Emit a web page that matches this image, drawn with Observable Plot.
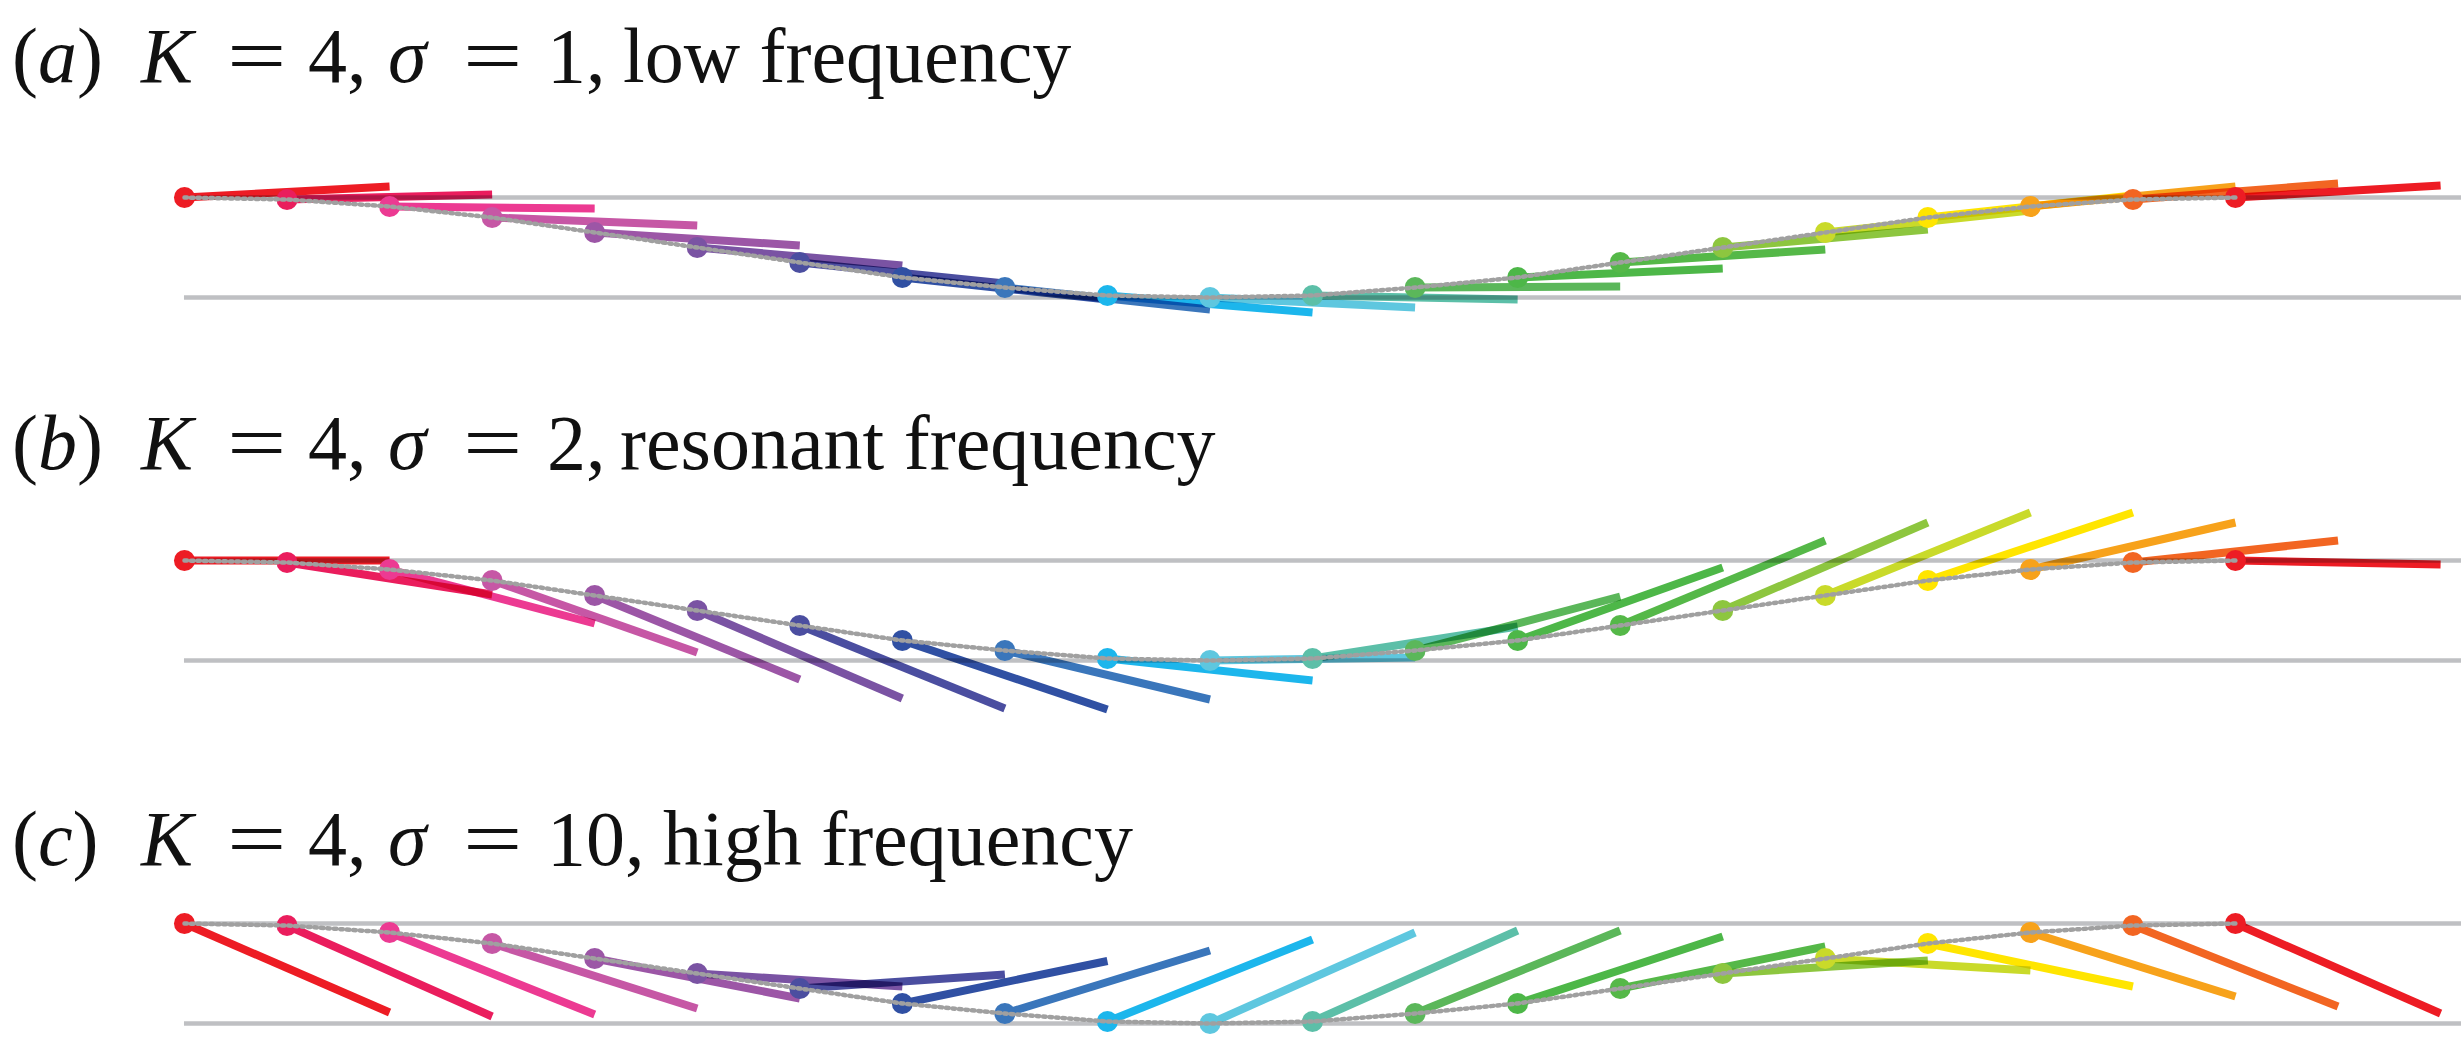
<!DOCTYPE html>
<html>
<head>
<meta charset="utf-8">
<script src="https://cdn.jsdelivr.net/npm/d3@7"></script>
<script src="https://cdn.jsdelivr.net/npm/@observablehq/plot@0.6"></script>
<style>
  html, body { margin: 0; padding: 0; background: #fff; overflow: hidden; width: 2461px; height: 1042px; }
  #root { position: relative; width: 2461px; height: 1042px; }
  .panel { position: absolute; left: 0; }
  #titles { position: absolute; left: 0; top: 0; pointer-events: none; }
  #titles text { font-family: "Liberation Serif", "Times New Roman", serif; font-size: 78px; fill: #111; }
</style>
</head>
<body>
<div id="root"></div>
<script>
// ---- data ----
const points = d3.range(21);                       // node index along the chain
const dotY = [0, -0.02, -0.09, -0.2, -0.35, -0.5, -0.65, -0.8, -0.9, -0.98, -1,
              -0.98, -0.9, -0.8, -0.65, -0.5, -0.35, -0.2, -0.09, -0.02, 0];
// end height of each coloured segment (each segment spans two node spacings)
const endA = [0.11, 0.03, -0.11, -0.28, -0.48, -0.68, -0.86, -1.02, -1.12, -1.15, -1.10,
              -1.02, -0.89, -0.71, -0.52, -0.32, -0.13, 0.02, 0.11, 0.14, 0.12];
const endB = [0, -0.34, -0.63, -0.92, -1.19, -1.38, -1.48, -1.49, -1.39, -1.2, -0.97,
              -0.66, -0.36, -0.07, 0.2, 0.38, 0.48, 0.48, 0.38, 0.2, -0.04];
const endC = [-0.89, -0.93, -0.91, -0.85, -0.75, -0.63, -0.51, -0.375, -0.27, -0.16, -0.09,
              -0.07, -0.07, -0.13, -0.23, -0.37, -0.47, -0.63, -0.73, -0.83, -0.9];
const colors = ["#ED1C24", "#EA1D5D", "#EC3A92", "#C657A5", "#9C56A6", "#7A53A3", "#4B4EA0",
                "#3050A3", "#3A76BB", "#1CB6EC", "#5EC7DF", "#5CBFA8", "#5BB75A", "#4DB748",
                "#55B848", "#8DC63F", "#C9DA2A", "#FFE500", "#F7A21B", "#F26522", "#ED1C24"];
const levels = [0, -1];
const panelLabels = ["a", "b", "c"];
const kValues = [4, 4, 4];
const sigmaValues = [1, 2, 10];
const regimes = ["low frequency", "resonant frequency", "high frequency"];
const ends = [endA, endB, endC];

// ---- layout ----
const W = 2461;
const xDomain = [-1.794, 22.204];
const panelTop = [97, 460, 823];      // SVG top of each panel (top reference line 100px below)
const titleBaseline = [82, 469, 865];
const textLeft = [623, 620, 663];
const H = 280;

const root = document.getElementById("root");

ends.forEach((end, p) => {
  const nodes = points.map(i => ({i, y: dotY[i], y2: end[i], c: colors[i]}));
  const chart = Plot.plot({
    width: W,
    height: H,
    marginTop: 0, marginBottom: 0, marginLeft: 0, marginRight: 0,
    x: {domain: xDomain, axis: null},
    y: {domain: [-1.8, 1.0], axis: null},
    color: {type: "identity"},
    style: {background: "transparent", overflow: "visible"},
    marks: [
      Plot.ruleY(levels, {x1: 0, x2: xDomain[1], stroke: "#bfc0c3", strokeWidth: 4.5}),
      Plot.link(nodes, {x1: "i", y1: "y", x2: d => d.i + 2, y2: "y2", stroke: "c", strokeWidth: 8, mixBlendMode: "multiply"}),
      Plot.dot(nodes, {x: "i", y: "y", r: 10.5, fill: "c", stroke: "none"}),
      Plot.line(nodes, {x: "i", y: "y", stroke: "#a0a0a0", strokeWidth: 4.5, strokeDasharray: "2.5,4"})
    ]
  });
  const wrap = document.createElement("div");
  wrap.className = "panel";
  wrap.style.top = panelTop[p] + "px";
  wrap.appendChild(chart);
  root.appendChild(wrap);
});

// ---- panel titles (real text) ----
const svg = d3.select("#root").append("svg")
  .attr("id", "titles").attr("width", W).attr("height", 1042);
panelLabels.forEach((lab, p) => {
  const y = titleBaseline[p];
  const tokens = [
    {x: 12, html: `(<tspan font-style="italic">${lab}</tspan>)`},
    {x: 141, html: `<tspan font-style="italic">K</tspan>`},
    {x: 227, html: "=", eq: true},
    {x: 308, html: `${kValues[p]},`},
    {x: 388, html: `<tspan font-style="italic">σ</tspan>`},
    {x: 463, html: "=", eq: true},
    {x: 547, html: `${sigmaValues[p]},`},
    {x: textLeft[p], html: regimes[p]}
  ];
  tokens.forEach(t => {
    const el = svg.append("text").attr("y", y).html(t.html);
    if (t.eq) el.attr("transform", `translate(${t.x},0) scale(1.35,1)`).attr("x", 0);
    else el.attr("x", t.x);
  });
});
</script>
</body>
</html>
